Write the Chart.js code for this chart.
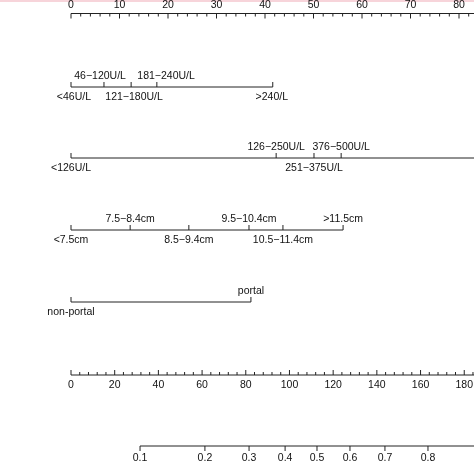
<!DOCTYPE html>
<html><head><meta charset="utf-8">
<script src="https://cdn.jsdelivr.net/npm/chart.js@4/dist/chart.umd.min.js"></script>
<style>html,body{margin:0;padding:0;background:#fff}#c{display:block}</style>
</head><body>
<canvas id="c" width="474" height="474"></canvas>
<script>
// points axis ticks
const pointTicks = [0, 10, 20, 30, 40, 50, 60, 70, 80];
// variable rows
const ldhPts = [0, 6.8, 12.4, 17.7, 41.6];
const ldhLabelPts = [0.6, 6.0, 13.0, 19.6, 41.4];
const ldhLabels = ['<46U/L', '46\u2212120U/L', '121\u2212180U/L', '181\u2212240U/L', '>240/L'];
const afpPts = [0, 42.3, 50.1, 55.7];
const afpLabels = ['<126U/L', '126\u2212250U/L', '251\u2212375U/L', '376\u2212500U/L'];
const sizePts = [0, 12.2, 24.3, 36.7, 43.7, 56.1];
const sizeLabels = ['<7.5cm', '7.5\u22128.4cm', '8.5\u22129.4cm', '9.5\u221210.4cm', '10.5\u221211.4cm', '>11.5cm'];
const pvttPts = [0, 37.1];
const pvttLabels = ['non-portal', 'portal'];
// total points axis
const totalTicks = [0, 20, 40, 60, 80, 100, 120, 140, 160, 180];
// probability positions on total-points scale
const probTicks = [0.1, 0.2, 0.3, 0.4, 0.5, 0.6, 0.7, 0.8];
const probTotals = [31.6, 61.3, 81.5, 98, 112.6, 127.7, 143.7, 163.4];

const totalToPts = 100 / 222;

const rows = [
  { y: 87, pts: ldhPts, labelPts: ldhLabelPts, labels: ldhLabels, end: 41.6 },
  { y: 158, pts: afpPts, labels: afpLabels, end: 100 },
  { y: 230, pts: sizePts, labels: sizeLabels, end: 56.1 },
  { y: 302, pts: pvttPts, labels: pvttLabels, end: 37.1 },
];

const nomo = {
  id: 'nomo',
  afterDraw(chart) {
    const g = chart.ctx, xs = chart.scales.x, ys = chart.scales.y;
    const X = v => xs.getPixelForValue(v), Y = v => ys.getPixelForValue(v);
    g.save();
    g.fillStyle = '#f7d4da'; g.fillRect(0, 0, 474, 2);
    g.strokeStyle = '#222'; g.fillStyle = '#111'; g.lineWidth = 1;
    g.font = '10.5px "Liberation Sans", Arial, sans-serif';
    g.textAlign = 'center';
    const line = (x1, y1, x2, y2) => { g.beginPath(); g.moveTo(x1, y1); g.lineTo(x2, y2); g.stroke(); };
    // points axis (ticks hang down)
    let yy = Y(13.5);
    line(X(0), yy, X(100), yy);
    for (let v = 0; v <= 100; v += 2) line(X(v), yy, X(v), yy + (v % 10 === 0 ? 5 : 3));
    g.textBaseline = 'bottom';
    pointTicks.forEach(v => g.fillText(String(v), X(v), yy - 3));
    // rows
    rows.forEach(r => {
      const y = Y(r.y);
      line(X(0), y, X(r.end), y);
      r.pts.forEach((p, i) => {
        line(X(p), y, X(p), y - 5);
        const above = i % 2 === 1;
        const lx = r.labelPts ? r.labelPts[i] : p;
        g.textBaseline = above ? 'bottom' : 'top';
        g.fillText(r.labels[i], X(lx), above ? y - 6 : y + 5);
      });
    });
    // total points
    yy = Y(375);
    line(X(0), yy, X(250 * totalToPts), yy);
    for (let v = 0; v <= 250; v += 4) line(X(v * totalToPts), yy, X(v * totalToPts), yy - (v % 20 === 0 ? 5 : 3));
    g.textBaseline = 'top';
    totalTicks.forEach(v => g.fillText(String(v), X(v * totalToPts), yy + 5));
    // probability
    yy = Y(446);
    line(X(probTotals[0] * totalToPts), yy, X(250 * totalToPts), yy);
    probTicks.forEach((p, i) => {
      const x = X(probTotals[i] * totalToPts);
      line(x, yy, x, yy + 5);
      g.fillText(String(p), x, yy + 7);
    });
    g.restore();
  }
};

new Chart(document.getElementById('c'), {
  type: 'scatter',
  data: { datasets: [{ data: [], showLine: false }] },
  options: {
    responsive: false, animation: false,
    layout: { padding: 0 },
    plugins: { legend: { display: false }, tooltip: { enabled: false } },
    scales: {
      x: { type: 'linear', display: false, min: -71 / 4.85, max: 403 / 4.85 },
      y: { type: 'linear', display: false, min: 0, max: 474, reverse: true }
    }
  },
  plugins: [nomo]
});
</script>
</body></html>
